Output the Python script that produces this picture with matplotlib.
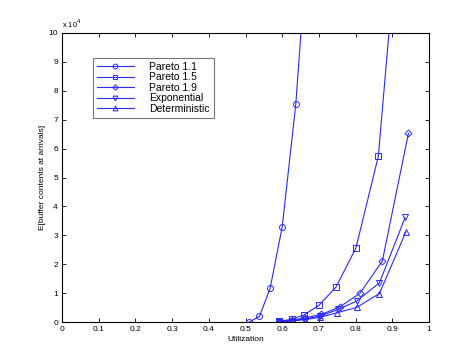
from matplotlib import pyplot as plt
from matplotlib.ticker import MultipleLocator
import numpy as np

plt.rcParams['font.family'] = ['Liberation Sans', 'DejaVu Sans']

# utilization / mean buffer contents
util_p11 = [0.51, 0.538, 0.567, 0.600, 0.637, 0.67]
buf_p11  = [50, 2000, 11700, 33000, 75400, 133000]

util_p15 = [0.592, 0.626, 0.659, 0.700, 0.747, 0.801, 0.862, 0.92]
buf_p15  = [300, 1000, 2500, 5800, 12200, 25700, 57400, 143000]

util_p19 = [0.592, 0.626, 0.663, 0.707, 0.757, 0.812, 0.873, 0.944]
buf_p19  = [200, 700, 1500, 2700, 5300, 10000, 21200, 65300]

util_exp = [0.592, 0.626, 0.663, 0.703, 0.753, 0.803, 0.865, 0.935]
buf_exp  = [150, 550, 1100, 2100, 4400, 7300, 13600, 36200]

util_det = [0.592, 0.626, 0.663, 0.703, 0.748, 0.803, 0.865, 0.937]
buf_det  = [100, 400, 900, 1700, 3200, 5100, 9900, 31200]

series = [
    ('Pareto 1.1', util_p11, buf_p11, 'o'),
    ('Pareto 1.5', util_p15, buf_p15, 's'),
    ('Pareto 1.9', util_p19, buf_p19, 'D'),
    ('Exponential', util_exp, buf_exp, 'v'),
    ('Deterministic', util_det, buf_det, '^'),
]

fig = plt.figure(figsize=(4.74, 3.62), dpi=100)
ax = fig.add_axes([0.131, 0.110, 0.774, 0.799])

for name, x, y, mk in series:
    ms = 3.5 if mk == 'D' else 4.3
    ax.plot(x, y, color='#2828ff', lw=0.8, marker=mk, ms=ms,
            mfc='none', mec='#2828ff', mew=0.7, label=name)

ax.set_xlim(0, 1)
ax.set_ylim(0, 1e5)
ax.set_xticks(np.arange(0, 1.01, 0.1))
ax.set_xticklabels(['0', '0.1', '0.2', '0.3', '0.4', '0.5', '0.6', '0.7', '0.8', '0.9', '1'])
ax.set_yticks(np.arange(0, 1.01e5, 1e4))
ax.set_yticklabels([str(i) for i in range(11)])
ax.text(0.0, 1.01, r'x 10$^4$', transform=ax.transAxes, fontsize=5.5,
        ha='left', va='bottom')

ax.tick_params(direction='in', top=True, right=True, labelsize=6,
               length=3, width=0.6, pad=3)
for sp in ax.spines.values():
    sp.set_linewidth(0.8)

ax.set_xlabel('Utilization', fontsize=6, labelpad=2)
ax.set_ylabel('E[buffer contents at arrivals]', fontsize=6, labelpad=2)

leg = ax.legend(loc='upper left', bbox_to_anchor=(0.084, 0.915), fontsize=7.5,
                frameon=True, fancybox=False, edgecolor='#555555',
                handlelength=3.5, borderpad=0.4, labelspacing=0.05,
                handletextpad=1.5, borderaxespad=0, markerscale=0.8)
leg.get_frame().set_linewidth(0.8)

fig.savefig('out.png', dpi=100)
